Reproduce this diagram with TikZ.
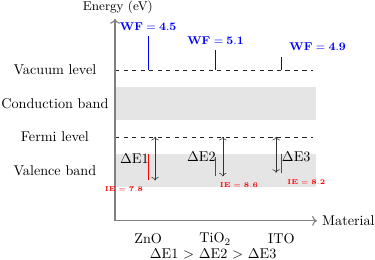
\documentclass[tikz,border=0pt]{standalone}
\usepackage{amsmath}
\usetikzlibrary{arrows.meta, positioning, calc}
\tikzset{
  axis/.style={->, thick, color=gray},
  level/.style={dashed, color=black!85},
  band/.style={fill=gray!20, draw=none},
  wfline/.style={thick, color=blue},
  ieline/.style={thick, color=red},
  gap/.style={<->, color=black!80},
  lvlabel/.style={font=\normalsize, align=center},
  wflabel/.style={font=\footnotesize, color=blue},
  ielabel/.style={font=\tiny, color=red},
  matlabel/.style={inner sep=1pt}
}

\begin{document}
\begin{tikzpicture}
  \useasboundingbox (-2.85,-0.965) rectangle (6.44,5.47);
  % bands
  \fill[band] (0,2.50) rectangle (4.97,3.32);
  \fill[band] (0,0.84) rectangle (4.97,1.66);
  % levels
  \coordinate (vacL) at (0,3.74);
  \coordinate (vacR) at (4.9,3.74);
  \coordinate (ferL) at (0,2.08);
  \coordinate (ferR) at (4.9,2.08);
  \draw[level] (vacL) -- (vacR);
  \draw[level] (ferL) -- (ferR);
  % axes
  \coordinate (O) at (0,0);
  \coordinate (Etop) at (0,5.0);
  \coordinate (Mend) at (5.0,0);
  \draw[axis] (O) -- (Etop) node[above, black, font=\small, xshift=2pt] (elabel) {Energy (eV)};
  \draw[axis] (O) -- (Mend) node[right, black] (mlabel) {Material};
  % left labels
  \node[lvlabel] (vaclab) at (-1.49,3.74) {Vacuum level};
  \node[lvlabel] (cblab) at (-1.49,2.91) {Conduction band};
  \node[lvlabel] (ferlab) at (-1.49,2.08) {Fermi level};
  \node[lvlabel] (vblab) at (-1.49,1.25) {Valence band};
  % work function, gap and ionisation lines
  \foreach \i/\xm/\xa/\wft/\bot/\iet in {1/0.82/0.99/4.58/1.00/1.66,2/2.48/2.67/4.23/1.10/1.59,3/4.13/3.99/4.06/1.19/1.66} {
    \coordinate (vac\i) at (\xm,3.74);
    \coordinate (wf\i) at (\xm,\wft);
    \draw[wfline] (vac\i) -- (wf\i);
    \coordinate (fer\i) at (\xa,2.08);
    \coordinate (gapend\i) at (\xa,\bot);
    \draw[gap] (fer\i) -- (gapend\i);
    \coordinate (vbt\i) at (\xm,\iet);
    \coordinate (ie\i) at (\xm,\bot);
    \draw[ieline] (vbt\i) -- (ie\i);
  }
  % labels
  \foreach \i/\wx/\wy/\wf/\dx/\dy/\ix/\iy/\ie in {1/0.82/4.81/4.5/0.48/1.53/0.22/0.79/7.8,2/2.49/4.47/5.1/2.14/1.58/3.07/0.89/8.6,3/5.02/4.31/4.9/4.49/1.58/4.74/0.97/8.2} {
    \node[wflabel] (wflab\i) at (\wx,\wy) {$\mathbf{WF = \wf}$};
    \node (delab\i) at (\dx,\dy) {$\Delta$E\i};
    \node[ielabel] (ielab\i) at (\ix,\iy) {$\mathbf{IE = \ie}$};
  }
  % materials
  \node[matlabel] (zno) at (0.82,-0.45) {ZnO};
  \node[matlabel] (tio) at (2.48,-0.45) {TiO$_2$};
  \node[matlabel] (ito) at (4.12,-0.45) {ITO};
  \node[matlabel] (order) at (2.43,-0.83) {$\Delta$E1 $>$ $\Delta$E2 $>$ $\Delta$E3};
\end{tikzpicture}
\end{document}
